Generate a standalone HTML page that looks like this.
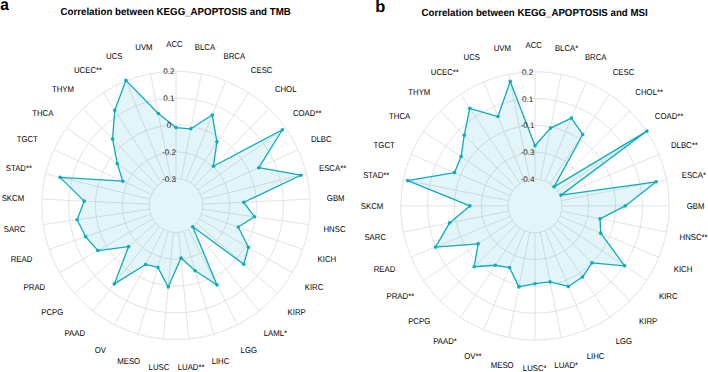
<!DOCTYPE html>
<html><head><meta charset="utf-8"><style>html,body{margin:0;padding:0;background:#fff;width:708px;height:372px;overflow:hidden}</style></head>
<body><svg width="708" height="372" viewBox="0 0 708 372" font-family="'Liberation Sans', sans-serif" fill="#000" text-rendering="geometricPrecision" style="display:block">
<rect width="708" height="372" fill="#fff"/>
<circle cx="176.0" cy="205.5" r="26.90" fill="none" stroke="#d9d9d9" stroke-width="0.75"/>
<circle cx="176.0" cy="205.5" r="53.72" fill="none" stroke="#d9d9d9" stroke-width="0.75"/>
<circle cx="176.0" cy="205.5" r="80.55" fill="none" stroke="#d9d9d9" stroke-width="0.75"/>
<circle cx="176.0" cy="205.5" r="107.38" fill="none" stroke="#d9d9d9" stroke-width="0.75"/>
<circle cx="176.0" cy="205.5" r="134.20" fill="none" stroke="#d9d9d9" stroke-width="0.75"/>
<path d="M176.00,178.60L176.00,71.30M181.09,179.09L201.40,73.73M186.00,180.53L225.88,80.91M190.54,182.87L248.55,92.60M194.56,186.03L268.61,108.37M197.91,189.90L285.32,127.66M200.47,194.33L298.07,149.75M202.14,199.16L306.42,173.86M202.87,204.22L310.05,199.11M202.63,209.33L308.83,224.60M201.42,214.30L302.82,249.39M199.30,218.95L292.22,272.60M196.33,223.12L277.42,293.38M192.63,226.64L258.96,310.99M188.33,229.41L237.49,324.78M183.58,231.31L213.81,334.26M178.56,232.28L188.76,339.09M173.44,232.28L163.24,339.09M168.42,231.31L138.19,334.26M163.67,229.41L114.51,324.78M159.37,226.64L93.04,310.99M155.67,223.12L74.58,293.38M152.70,218.95L59.78,272.60M150.58,214.30L49.18,249.39M149.37,209.33L43.17,224.60M149.13,204.22L41.95,199.11M149.86,199.16L45.58,173.86M151.53,194.33L53.93,149.75M154.09,189.90L66.68,127.66M157.44,186.03L83.39,108.37M161.46,182.87L103.45,92.60M166.00,180.53L126.12,80.91M170.91,179.09L150.60,73.73" stroke="#d9d9d9" stroke-width="0.75" fill="none"/>
<polygon points="176.00,127.60 190.78,128.82 212.24,114.98 216.91,141.84 213.39,166.29 282.38,129.75 258.79,167.69 300.81,175.22 243.80,202.27 254.50,216.79 238.28,227.06 248.44,247.33 243.76,264.22 192.72,226.76 217.01,285.04 195.14,270.70 181.01,257.99 168.22,287.02 157.84,267.34 145.60,264.46 114.33,283.92 128.59,246.58 97.88,250.60 85.69,236.76 77.09,219.72 84.20,201.13 60.06,177.37 122.83,181.22 117.26,163.67 112.56,138.96 114.77,110.23 125.92,80.39 158.28,113.56" fill="#0aa4c8" fill-opacity="0.11" stroke="#0aadbd" stroke-width="1.3" stroke-linejoin="round"/>
<circle cx="176.00" cy="127.60" r="1.8" fill="#0aadbd"/>
<circle cx="190.78" cy="128.82" r="1.8" fill="#0aadbd"/>
<circle cx="212.24" cy="114.98" r="1.8" fill="#0aadbd"/>
<circle cx="216.91" cy="141.84" r="1.8" fill="#0aadbd"/>
<circle cx="213.39" cy="166.29" r="1.8" fill="#0aadbd"/>
<circle cx="282.38" cy="129.75" r="1.8" fill="#0aadbd"/>
<circle cx="258.79" cy="167.69" r="1.8" fill="#0aadbd"/>
<circle cx="300.81" cy="175.22" r="1.8" fill="#0aadbd"/>
<circle cx="243.80" cy="202.27" r="1.8" fill="#0aadbd"/>
<circle cx="254.50" cy="216.79" r="1.8" fill="#0aadbd"/>
<circle cx="238.28" cy="227.06" r="1.8" fill="#0aadbd"/>
<circle cx="248.44" cy="247.33" r="1.8" fill="#0aadbd"/>
<circle cx="243.76" cy="264.22" r="1.8" fill="#0aadbd"/>
<circle cx="192.72" cy="226.76" r="1.8" fill="#0aadbd"/>
<circle cx="217.01" cy="285.04" r="1.8" fill="#0aadbd"/>
<circle cx="195.14" cy="270.70" r="1.8" fill="#0aadbd"/>
<circle cx="181.01" cy="257.99" r="1.8" fill="#0aadbd"/>
<circle cx="168.22" cy="287.02" r="1.8" fill="#0aadbd"/>
<circle cx="157.84" cy="267.34" r="1.8" fill="#0aadbd"/>
<circle cx="145.60" cy="264.46" r="1.8" fill="#0aadbd"/>
<circle cx="114.33" cy="283.92" r="1.8" fill="#0aadbd"/>
<circle cx="128.59" cy="246.58" r="1.8" fill="#0aadbd"/>
<circle cx="97.88" cy="250.60" r="1.8" fill="#0aadbd"/>
<circle cx="85.69" cy="236.76" r="1.8" fill="#0aadbd"/>
<circle cx="77.09" cy="219.72" r="1.8" fill="#0aadbd"/>
<circle cx="84.20" cy="201.13" r="1.8" fill="#0aadbd"/>
<circle cx="60.06" cy="177.37" r="1.8" fill="#0aadbd"/>
<circle cx="122.83" cy="181.22" r="1.8" fill="#0aadbd"/>
<circle cx="117.26" cy="163.67" r="1.8" fill="#0aadbd"/>
<circle cx="112.56" cy="138.96" r="1.8" fill="#0aadbd"/>
<circle cx="114.77" cy="110.23" r="1.8" fill="#0aadbd"/>
<circle cx="125.92" cy="80.39" r="1.8" fill="#0aadbd"/>
<circle cx="158.28" cy="113.56" r="1.8" fill="#0aadbd"/>
<text transform="translate(168.9,74.30) scale(1.0,1)" font-size="8.1" text-anchor="middle" fill="#262626">0.2</text>
<text transform="translate(168.9,101.13) scale(1.0,1)" font-size="8.1" text-anchor="middle" fill="#262626">0.1</text>
<text transform="translate(168.9,127.95) scale(1.0,1)" font-size="8.1" text-anchor="middle" fill="#262626">0</text>
<text transform="translate(168.9,154.78) scale(1.0,1)" font-size="8.1" text-anchor="middle" fill="#262626">-0.2</text>
<text transform="translate(168.9,181.60) scale(1.0,1)" font-size="8.1" text-anchor="middle" fill="#262626">-0.3</text>
<text transform="translate(174.45,47.45) scale(0.915,1)" font-size="8.5" text-anchor="middle">ACC</text>
<text transform="translate(205.00,50.25) scale(0.915,1)" font-size="8.5" text-anchor="middle">BLCA</text>
<text transform="translate(234.30,58.90) scale(0.915,1)" font-size="8.5" text-anchor="middle">BRCA</text>
<text transform="translate(261.65,73.10) scale(0.915,1)" font-size="8.5" text-anchor="middle">CESC</text>
<text transform="translate(285.70,92.00) scale(0.915,1)" font-size="8.5" text-anchor="middle">CHOL</text>
<text transform="translate(307.20,115.60) scale(0.915,1)" font-size="8.5" text-anchor="middle">COAD**</text>
<text transform="translate(321.30,142.20) scale(0.915,1)" font-size="8.5" text-anchor="middle">DLBC</text>
<text transform="translate(332.60,170.60) scale(0.915,1)" font-size="8.5" text-anchor="middle">ESCA**</text>
<text transform="translate(335.70,201.00) scale(0.915,1)" font-size="8.5" text-anchor="middle">GBM</text>
<text transform="translate(334.50,232.00) scale(0.915,1)" font-size="8.5" text-anchor="middle">HNSC</text>
<text transform="translate(326.90,261.80) scale(0.915,1)" font-size="8.5" text-anchor="middle">KICH</text>
<text transform="translate(314.00,289.90) scale(0.915,1)" font-size="8.5" text-anchor="middle">KIRC</text>
<text transform="translate(296.70,315.10) scale(0.915,1)" font-size="8.5" text-anchor="middle">KIRP</text>
<text transform="translate(275.40,336.40) scale(0.915,1)" font-size="8.5" text-anchor="middle">LAML*</text>
<text transform="translate(248.80,353.00) scale(0.915,1)" font-size="8.5" text-anchor="middle">LGG</text>
<text transform="translate(220.50,364.30) scale(0.915,1)" font-size="8.5" text-anchor="middle">LIHC</text>
<text transform="translate(191.10,370.00) scale(0.915,1)" font-size="8.5" text-anchor="middle">LUAD**</text>
<text transform="translate(159.00,370.00) scale(0.915,1)" font-size="8.5" text-anchor="middle">LUSC</text>
<text transform="translate(128.70,364.30) scale(0.915,1)" font-size="8.5" text-anchor="middle">MESO</text>
<text transform="translate(100.35,352.70) scale(0.915,1)" font-size="8.5" text-anchor="middle">OV</text>
<text transform="translate(74.70,336.10) scale(0.915,1)" font-size="8.5" text-anchor="middle">PAAD</text>
<text transform="translate(52.30,315.10) scale(0.915,1)" font-size="8.5" text-anchor="middle">PCPG</text>
<text transform="translate(34.40,290.00) scale(0.915,1)" font-size="8.5" text-anchor="middle">PRAD</text>
<text transform="translate(21.50,262.10) scale(0.915,1)" font-size="8.5" text-anchor="middle">READ</text>
<text transform="translate(14.50,232.00) scale(0.915,1)" font-size="8.5" text-anchor="middle">SARC</text>
<text transform="translate(12.90,201.00) scale(0.915,1)" font-size="8.5" text-anchor="middle">SKCM</text>
<text transform="translate(18.90,170.60) scale(0.915,1)" font-size="8.5" text-anchor="middle">STAD**</text>
<text transform="translate(27.25,142.20) scale(0.915,1)" font-size="8.5" text-anchor="middle">TGCT</text>
<text transform="translate(42.80,115.60) scale(0.915,1)" font-size="8.5" text-anchor="middle">THCA</text>
<text transform="translate(62.90,92.00) scale(0.915,1)" font-size="8.5" text-anchor="middle">THYM</text>
<text transform="translate(88.00,72.90) scale(0.915,1)" font-size="8.5" text-anchor="middle">UCEC**</text>
<text transform="translate(114.30,58.90) scale(0.915,1)" font-size="8.5" text-anchor="middle">UCS</text>
<text transform="translate(143.95,50.25) scale(0.915,1)" font-size="8.5" text-anchor="middle">UVM</text>
<text x="60.5" y="15.0" font-size="10.2" font-weight="bold" textLength="230.3" lengthAdjust="spacingAndGlyphs" fill="#000">Correlation between KEGG_APOPTOSIS and TMB</text>
<text transform="translate(0.3,9.6) scale(1.0,1.06)" font-size="15.5" font-weight="bold" fill="#000">a</text>
<circle cx="535.0" cy="205.9" r="26.90" fill="none" stroke="#d9d9d9" stroke-width="0.75"/>
<circle cx="535.0" cy="205.9" r="53.72" fill="none" stroke="#d9d9d9" stroke-width="0.75"/>
<circle cx="535.0" cy="205.9" r="80.55" fill="none" stroke="#d9d9d9" stroke-width="0.75"/>
<circle cx="535.0" cy="205.9" r="107.38" fill="none" stroke="#d9d9d9" stroke-width="0.75"/>
<circle cx="535.0" cy="205.9" r="134.20" fill="none" stroke="#d9d9d9" stroke-width="0.75"/>
<path d="M535.00,179.00L535.00,71.70M540.25,179.52L561.18,74.28M545.29,181.05L586.36,81.92M549.94,183.53L609.56,94.32M554.02,186.88L629.89,111.01M557.37,190.96L646.58,131.34M559.85,195.61L658.98,154.54M561.38,200.65L666.62,179.72M561.90,205.90L669.20,205.90M561.38,211.15L666.62,232.08M559.85,216.19L658.98,257.26M557.37,220.84L646.58,280.46M554.02,224.92L629.89,300.79M549.94,228.27L609.56,317.48M545.29,230.75L586.36,329.88M540.25,232.28L561.18,337.52M535.00,232.80L535.00,340.10M529.75,232.28L508.82,337.52M524.71,230.75L483.64,329.88M520.06,228.27L460.44,317.48M515.98,224.92L440.11,300.79M512.63,220.84L423.42,280.46M510.15,216.19L411.02,257.26M508.62,211.15L403.38,232.08M508.10,205.90L400.80,205.90M508.62,200.65L403.38,179.72M510.15,195.61L411.02,154.54M512.63,190.96L423.42,131.34M515.98,186.88L440.11,111.01M520.06,183.53L460.44,94.32M524.71,181.05L483.64,81.92M529.75,179.52L508.82,74.28" stroke="#d9d9d9" stroke-width="0.75" fill="none"/>
<polygon points="535.00,145.70 550.48,128.10 571.38,118.07 582.74,134.46 554.05,186.85 646.96,131.09 561.03,195.12 656.14,181.80 625.30,205.90 600.03,218.84 600.73,233.13 624.62,265.78 591.95,262.85 582.54,277.04 568.37,286.47 550.11,281.88 535.00,283.70 518.89,286.90 509.47,267.53 495.34,265.26 474.15,266.75 478.22,243.84 435.48,247.12 449.56,222.90 469.90,205.90 407.72,180.58 454.57,172.59 461.11,156.53 464.25,135.15 469.77,108.28 497.97,116.51 510.24,81.41" fill="#0aa4c8" fill-opacity="0.11" stroke="#0aadbd" stroke-width="1.3" stroke-linejoin="round"/>
<circle cx="535.00" cy="145.70" r="1.8" fill="#0aadbd"/>
<circle cx="550.48" cy="128.10" r="1.8" fill="#0aadbd"/>
<circle cx="571.38" cy="118.07" r="1.8" fill="#0aadbd"/>
<circle cx="582.74" cy="134.46" r="1.8" fill="#0aadbd"/>
<circle cx="554.05" cy="186.85" r="1.8" fill="#0aadbd"/>
<circle cx="646.96" cy="131.09" r="1.8" fill="#0aadbd"/>
<circle cx="561.03" cy="195.12" r="1.8" fill="#0aadbd"/>
<circle cx="656.14" cy="181.80" r="1.8" fill="#0aadbd"/>
<circle cx="625.30" cy="205.90" r="1.8" fill="#0aadbd"/>
<circle cx="600.03" cy="218.84" r="1.8" fill="#0aadbd"/>
<circle cx="600.73" cy="233.13" r="1.8" fill="#0aadbd"/>
<circle cx="624.62" cy="265.78" r="1.8" fill="#0aadbd"/>
<circle cx="591.95" cy="262.85" r="1.8" fill="#0aadbd"/>
<circle cx="582.54" cy="277.04" r="1.8" fill="#0aadbd"/>
<circle cx="568.37" cy="286.47" r="1.8" fill="#0aadbd"/>
<circle cx="550.11" cy="281.88" r="1.8" fill="#0aadbd"/>
<circle cx="535.00" cy="283.70" r="1.8" fill="#0aadbd"/>
<circle cx="518.89" cy="286.90" r="1.8" fill="#0aadbd"/>
<circle cx="509.47" cy="267.53" r="1.8" fill="#0aadbd"/>
<circle cx="495.34" cy="265.26" r="1.8" fill="#0aadbd"/>
<circle cx="474.15" cy="266.75" r="1.8" fill="#0aadbd"/>
<circle cx="478.22" cy="243.84" r="1.8" fill="#0aadbd"/>
<circle cx="435.48" cy="247.12" r="1.8" fill="#0aadbd"/>
<circle cx="449.56" cy="222.90" r="1.8" fill="#0aadbd"/>
<circle cx="469.90" cy="205.90" r="1.8" fill="#0aadbd"/>
<circle cx="407.72" cy="180.58" r="1.8" fill="#0aadbd"/>
<circle cx="454.57" cy="172.59" r="1.8" fill="#0aadbd"/>
<circle cx="461.11" cy="156.53" r="1.8" fill="#0aadbd"/>
<circle cx="464.25" cy="135.15" r="1.8" fill="#0aadbd"/>
<circle cx="469.77" cy="108.28" r="1.8" fill="#0aadbd"/>
<circle cx="497.97" cy="116.51" r="1.8" fill="#0aadbd"/>
<circle cx="510.24" cy="81.41" r="1.8" fill="#0aadbd"/>
<text transform="translate(527.6,74.70) scale(1.0,1)" font-size="8.1" text-anchor="middle" fill="#262626">0.2</text>
<text transform="translate(527.6,101.53) scale(1.0,1)" font-size="8.1" text-anchor="middle" fill="#262626">0.1</text>
<text transform="translate(527.6,128.35) scale(1.0,1)" font-size="8.1" text-anchor="middle" fill="#262626">-0.1</text>
<text transform="translate(527.6,155.18) scale(1.0,1)" font-size="8.1" text-anchor="middle" fill="#262626">-0.3</text>
<text transform="translate(527.6,182.00) scale(1.0,1)" font-size="8.1" text-anchor="middle" fill="#262626">-0.4</text>
<text transform="translate(533.70,48.00) scale(0.915,1)" font-size="8.5" text-anchor="middle">ACC</text>
<text transform="translate(566.60,51.00) scale(0.915,1)" font-size="8.5" text-anchor="middle">BLCA*</text>
<text transform="translate(595.70,60.00) scale(0.915,1)" font-size="8.5" text-anchor="middle">BRCA</text>
<text transform="translate(623.50,74.90) scale(0.915,1)" font-size="8.5" text-anchor="middle">CESC</text>
<text transform="translate(649.20,95.30) scale(0.915,1)" font-size="8.5" text-anchor="middle">CHOL**</text>
<text transform="translate(669.10,119.35) scale(0.915,1)" font-size="8.5" text-anchor="middle">COAD**</text>
<text transform="translate(684.35,147.80) scale(0.915,1)" font-size="8.5" text-anchor="middle">DLBC**</text>
<text transform="translate(693.85,177.80) scale(0.915,1)" font-size="8.5" text-anchor="middle">ESCA*</text>
<text transform="translate(695.65,209.45) scale(0.915,1)" font-size="8.5" text-anchor="middle">GBM</text>
<text transform="translate(693.55,240.10) scale(0.915,1)" font-size="8.5" text-anchor="middle">HNSC**</text>
<text transform="translate(683.05,271.55) scale(0.915,1)" font-size="8.5" text-anchor="middle">KICH</text>
<text transform="translate(668.25,299.10) scale(0.915,1)" font-size="8.5" text-anchor="middle">KIRC</text>
<text transform="translate(648.20,324.10) scale(0.915,1)" font-size="8.5" text-anchor="middle">KIRP</text>
<text transform="translate(623.85,344.00) scale(0.915,1)" font-size="8.5" text-anchor="middle">LGG</text>
<text transform="translate(595.55,358.85) scale(0.915,1)" font-size="8.5" text-anchor="middle">LIHC</text>
<text transform="translate(566.25,367.85) scale(0.915,1)" font-size="8.5" text-anchor="middle">LUAD*</text>
<text transform="translate(534.75,371.20) scale(0.915,1)" font-size="8.5" text-anchor="middle">LUSC*</text>
<text transform="translate(502.20,367.85) scale(0.915,1)" font-size="8.5" text-anchor="middle">MESO</text>
<text transform="translate(472.90,358.85) scale(0.915,1)" font-size="8.5" text-anchor="middle">OV**</text>
<text transform="translate(445.00,344.10) scale(0.915,1)" font-size="8.5" text-anchor="middle">PAAD*</text>
<text transform="translate(419.20,324.20) scale(0.915,1)" font-size="8.5" text-anchor="middle">PCPG</text>
<text transform="translate(400.35,299.10) scale(0.915,1)" font-size="8.5" text-anchor="middle">PRAD**</text>
<text transform="translate(384.50,271.50) scale(0.915,1)" font-size="8.5" text-anchor="middle">READ</text>
<text transform="translate(375.20,240.10) scale(0.915,1)" font-size="8.5" text-anchor="middle">SARC</text>
<text transform="translate(372.10,209.40) scale(0.915,1)" font-size="8.5" text-anchor="middle">SKCM</text>
<text transform="translate(376.25,177.80) scale(0.915,1)" font-size="8.5" text-anchor="middle">STAD**</text>
<text transform="translate(384.20,147.80) scale(0.915,1)" font-size="8.5" text-anchor="middle">TGCT</text>
<text transform="translate(399.60,119.30) scale(0.915,1)" font-size="8.5" text-anchor="middle">THCA</text>
<text transform="translate(419.30,95.10) scale(0.915,1)" font-size="8.5" text-anchor="middle">THYM</text>
<text transform="translate(444.85,75.10) scale(0.915,1)" font-size="8.5" text-anchor="middle">UCEC**</text>
<text transform="translate(471.75,60.00) scale(0.915,1)" font-size="8.5" text-anchor="middle">UCS</text>
<text transform="translate(502.30,51.00) scale(0.915,1)" font-size="8.5" text-anchor="middle">UVM</text>
<text x="421.5" y="15.6" font-size="10.2" font-weight="bold" textLength="226.2" lengthAdjust="spacingAndGlyphs" fill="#000">Correlation between KEGG_APOPTOSIS and MSI</text>
<text transform="translate(375.2,12.0) scale(1.06,1.06)" font-size="15.5" font-weight="bold" fill="#000">b</text>
</svg></body></html>
